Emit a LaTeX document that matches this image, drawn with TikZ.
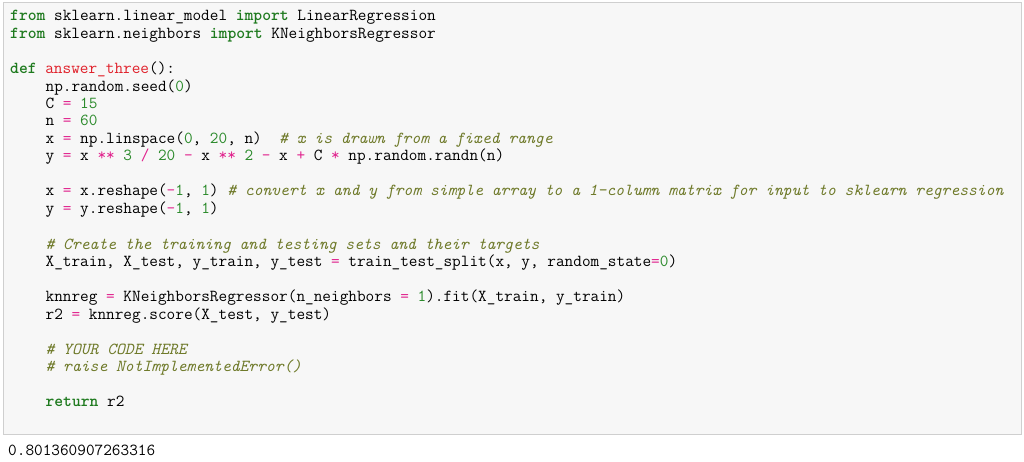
\documentclass[tikz,border=0pt]{standalone}
\definecolor{kwc}{HTML}{1E7A1E}
\definecolor{fnc}{HTML}{E0202A}
\definecolor{opc}{HTML}{E0208C}
\definecolor{nmc}{HTML}{2A8A2A}
\definecolor{cmc}{HTML}{6F7A2A}
\definecolor{bgc}{HTML}{F7F7F7}
\definecolor{bdc}{HTML}{CFCFCF}
\newcommand{\kw}[1]{\textcolor{kwc}{\bfseries #1}}
\newcommand{\fnn}[1]{\textcolor{fnc}{#1}}
\newcommand{\op}[1]{\textcolor{opc}{#1}}
\newcommand{\nm}[1]{\textcolor{nmc}{#1}}
\newcommand{\cm}[1]{\textcolor{cmc}{\itshape #1}}
\begin{document}
\begin{tikzpicture}[x=1pt,y=-1pt,
  code/.style={anchor=base west,inner sep=0pt,font=\fontsize{16.8}{18}\ttfamily,text=black}]
\useasboundingbox (0,0) rectangle (1024,462);
\draw[bdc,fill=bgc] (3,2) rectangle (1021,434);
\def\ia{10}\def\ib{45.4}
\node[code] (l1) at (\ia,21) {\kw{from} sklearn.linear\_model \kw{import} LinearRegression};
\node[code] (l2) at (\ia,39) {\kw{from} sklearn.neighbors \kw{import} KNeighborsRegressor};
\node[code] (l3) at (\ia,74) {\kw{def} \fnn{answer\_three}():};
\node[code] (l4) at (\ib,92) {np.random.seed(\nm{0})};
\node[code] (l5) at (\ib,109) {C \op{=} \nm{15}};
\node[code] (l6) at (\ib,126) {n \op{=} \nm{60}};
\node[code] (l7) at (\ib,144) {x \op{=} np.linspace(\nm{0}, \nm{20}, n)\ \ \cm{\# x is drawn from a fixed range}};
\node[code] (l8) at (\ib,161) {y \op{=} x \op{**} \nm{3} \op{/} \nm{20} \op{-} x \op{**} \nm{2} \op{-} x \op{+} C \op{*} np.random.randn(n)};
\node[code] (l9) at (\ib,196) {x \op{=} x.reshape(\op{-}\nm{1}, \nm{1}) \cm{\# convert x and y from simple array to a 1-column matrix for input to sklearn regression}};
\node[code] (l10) at (\ib,214) {y \op{=} y.reshape(\op{-}\nm{1}, \nm{1})};
\node[code] (l11) at (\ib,249) {\cm{\# Create the training and testing sets and their targets}};
\node[code] (l12) at (\ib,266) {X\_train, X\_test, y\_train, y\_test \op{=} train\_test\_split(x, y, random\_state\op{=}\nm{0})};
\node[code] (l13) at (\ib,301) {knnreg \op{=} KNeighborsRegressor(n\_neighbors \op{=} \nm{1}).fit(X\_train, y\_train)};
\node[code] (l14) at (\ib,319) {r2 \op{=} knnreg.score(X\_test, y\_test)};
\node[code] (l15) at (\ib,354) {\cm{\# YOUR CODE HERE}};
\node[code] (l16) at (\ib,371) {\cm{\# raise NotImplementedError()}};
\node[code] (l17) at (\ib,406) {\kw{return} r2};
\node[code] (out) at (8,455) {0.801360907263316};
\end{tikzpicture}
\end{document}
